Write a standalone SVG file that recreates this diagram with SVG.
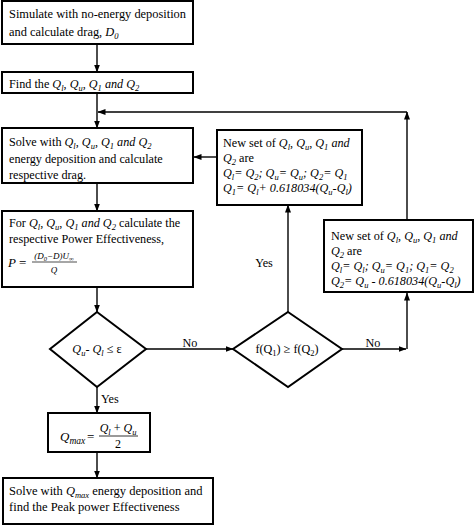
<svg xmlns="http://www.w3.org/2000/svg" width="474" height="527" viewBox="0 0 474 527">
<defs>
<style>
.b{fill:#fff;stroke:#000;stroke-width:2}
.c{fill:none;stroke:#000;stroke-width:1.4}
.t{font-family:"Liberation Serif","Times New Roman",serif;font-size:12.2px;fill:#000}
.L{font-size:12.4px}
.i{font-style:italic}
.s{font-size:8.5px}
.f{font-size:9px;font-style:italic}
</style>
<marker id="ah" markerWidth="8" markerHeight="6" refX="7.5" refY="3" orient="auto" markerUnits="userSpaceOnUse">
<path d="M0,0 L8,3 L0,6 Z" fill="#000"/>
</marker>
</defs>
<rect width="474" height="527" fill="#fff"/>

<g id="connectors">
<path class="c" d="M97,44 V72" marker-end="url(#ah)"/>
<path class="c" d="M97,93 V128" marker-end="url(#ah)"/>
<path class="c" d="M407,220 V112" marker-end="url(#ah)"/>
<path class="c" d="M407,112 H98" marker-end="url(#ah)"/>
<path class="c" d="M97,183 V211" marker-end="url(#ah)"/>
<path class="c" d="M97,287 V312" marker-end="url(#ah)"/>
<path class="c" d="M146,349 H233" marker-end="url(#ah)"/>
<path class="c" d="M342,349 H406" marker-end="url(#ah)"/>
<path class="c" d="M407,349 V293" marker-end="url(#ah)"/>
<path class="c" d="M288,312 V205" marker-end="url(#ah)"/>
<path class="c" d="M217,157 H194" marker-end="url(#ah)"/>
<path class="c" d="M97,387 V413" marker-end="url(#ah)"/>
<path class="c" d="M97,452 V478" marker-end="url(#ah)"/>
<text class="t" x="190" y="347" text-anchor="middle">No</text>
<text class="t" x="373" y="347" text-anchor="middle">No</text>
<text class="t" x="264" y="267" text-anchor="middle">Yes</text>
<text class="t" x="101" y="403">Yes</text>
</g>

<g id="node-simulate">
<rect class="b" x="2" y="1" width="191" height="43"/>
<text class="t L" x="9" y="18">Simulate with no-energy deposition</text>
<text class="t L" x="9" y="36">and calculate  drag, <tspan class="i">D</tspan><tspan class="i s" baseline-shift="-3">0</tspan></text>
</g>

<g id="node-find">
<rect class="b" x="2" y="72" width="191" height="21"/>
<text class="t" x="9" y="88">Find the <tspan class="i">Q</tspan><tspan class="i s" baseline-shift="-3">l</tspan>, <tspan class="i">Q</tspan><tspan class="i s" baseline-shift="-3">u</tspan>, <tspan class="i">Q</tspan><tspan class="i s" baseline-shift="-3">1</tspan><tspan class="i"> and Q</tspan><tspan class="i s" baseline-shift="-3">2</tspan></text>
</g>

<g id="node-solve">
<rect class="b" x="2" y="128" width="191" height="55"/>
<text class="t" x="9" y="146">Solve with <tspan class="i">Q</tspan><tspan class="i s" baseline-shift="-3">l</tspan>, <tspan class="i">Q</tspan><tspan class="i s" baseline-shift="-3">u</tspan>, <tspan class="i">Q</tspan><tspan class="i s" baseline-shift="-3">1</tspan><tspan class="i"> and Q</tspan><tspan class="i s" baseline-shift="-3">2</tspan></text>
<text class="t" x="9" y="163">energy deposition and calculate</text>
<text class="t" x="9" y="179">respective drag.</text>
</g>

<g id="node-power">
<rect class="b" x="2" y="211" width="191" height="76"/>
<text class="t" x="9" y="227">For <tspan class="i">Q</tspan><tspan class="i s" baseline-shift="-3">l</tspan>, <tspan class="i">Q</tspan><tspan class="i s" baseline-shift="-3">u</tspan>, <tspan class="i">Q</tspan><tspan class="i s" baseline-shift="-3">1</tspan><tspan class="i"> and Q</tspan><tspan class="i s" baseline-shift="-3">2</tspan> calculate  the</text>
<text class="t" x="9" y="243">respective Power Effectiveness,</text>
<text class="t i" x="8" y="267" style="font-size:13px">P</text>
<text class="t" x="19" y="267" style="font-size:13px">=</text>
<text class="t f" x="54" y="259" text-anchor="middle">(D<tspan style="font-size:6.5px" baseline-shift="-2">0</tspan>−D)U<tspan style="font-size:6.5px" baseline-shift="-2">∞</tspan></text>
<line x1="32" y1="262" x2="77" y2="262" stroke="#000" stroke-width="0.7"/>
<text class="t f" x="54" y="273" text-anchor="middle">Q</text>
</g>

<g id="node-check">
<polygon class="b" points="97,312 146,349 97,387 50,349"/>
<text class="t" x="97" y="353" text-anchor="middle"><tspan class="i">Q</tspan><tspan class="i s" baseline-shift="-3">u</tspan><tspan class="i">- Q</tspan><tspan class="i s" baseline-shift="-3">l</tspan> ≤ ε</text>
</g>

<g id="node-compare">
<polygon class="b" points="288,312 342,349 288,387 233,349"/>
<text class="t" x="287" y="353" text-anchor="middle">f(Q<tspan class="s" baseline-shift="-3">1</tspan>) ≥ f(Q<tspan class="s" baseline-shift="-3">2</tspan>)</text>
</g>

<g id="node-newset1">
<rect class="b" x="217" y="130" width="145" height="75"/>
<text class="t" x="223" y="147">New set of <tspan class="i">Q</tspan><tspan class="i s" baseline-shift="-3">l</tspan>, <tspan class="i">Q</tspan><tspan class="i s" baseline-shift="-3">u</tspan>, <tspan class="i">Q</tspan><tspan class="i s" baseline-shift="-3">1</tspan><tspan class="i"> and</tspan></text>
<text class="t" x="223" y="162"><tspan class="i">Q</tspan><tspan class="i s" baseline-shift="-3">2</tspan> are</text>
<text class="t i" x="223" y="177">Q<tspan class="s" baseline-shift="-3">l</tspan>= Q<tspan class="s" baseline-shift="-3">2</tspan>; Q<tspan class="s" baseline-shift="-3">u</tspan>= Q<tspan class="s" baseline-shift="-3">u</tspan>; Q<tspan class="s" baseline-shift="-3">2</tspan>= Q<tspan class="s" baseline-shift="-3">1</tspan></text>
<text class="t i" x="223" y="192">Q<tspan class="s" baseline-shift="-3">1</tspan>= Q<tspan class="s" baseline-shift="-3">l</tspan>+ 0.618034(Q<tspan class="s" baseline-shift="-3">u</tspan>-Q<tspan class="s" baseline-shift="-3">l</tspan>)</text>
</g>

<g id="node-newset2">
<rect class="b" x="324" y="220" width="149" height="72"/>
<text class="t" x="331" y="240">New set of <tspan class="i">Q</tspan><tspan class="i s" baseline-shift="-3">l</tspan>, <tspan class="i">Q</tspan><tspan class="i s" baseline-shift="-3">u</tspan>, <tspan class="i">Q</tspan><tspan class="i s" baseline-shift="-3">1</tspan><tspan class="i"> and</tspan></text>
<text class="t" x="331" y="255"><tspan class="i">Q</tspan><tspan class="i s" baseline-shift="-3">2</tspan> are</text>
<text class="t i" x="331" y="270">Q<tspan class="s" baseline-shift="-3">l</tspan>= Q<tspan class="s" baseline-shift="-3">l</tspan>; Q<tspan class="s" baseline-shift="-3">u</tspan>= Q<tspan class="s" baseline-shift="-3">1</tspan>; Q<tspan class="s" baseline-shift="-3">1</tspan>= Q<tspan class="s" baseline-shift="-3">2</tspan></text>
<text class="t i" x="331" y="285">Q<tspan class="s" baseline-shift="-3">2</tspan>= Q<tspan class="s" baseline-shift="-3">u</tspan> - 0.618034(Q<tspan class="s" baseline-shift="-3">u</tspan>-Q<tspan class="s" baseline-shift="-3">l</tspan>)</text>
</g>

<g id="node-qmax">
<rect class="b" x="48" y="413" width="102" height="39"/>
<text class="t i" x="60" y="441" style="font-size:13px">Q<tspan style="font-size:9.5px" baseline-shift="-3">max</tspan></text>
<text class="t" x="87" y="441" style="font-size:13px">=</text>
<text class="t" x="118" y="432" text-anchor="middle" style="font-size:12px"><tspan class="i">Q</tspan><tspan class="i s" baseline-shift="-3">l</tspan> + <tspan class="i">Q</tspan><tspan class="i s" baseline-shift="-3">u</tspan></text>
<line x1="99" y1="436" x2="138" y2="436" stroke="#000" stroke-width="0.8"/>
<text class="t" x="118" y="448" text-anchor="middle" style="font-size:12px">2</text>
</g>

<g id="node-final">
<rect class="b" x="3" y="478" width="210" height="46"/>
<text class="t" x="9" y="495" style="font-size:12.5px">Solve with <tspan class="i">Q</tspan><tspan class="i s" baseline-shift="-3">max</tspan> energy deposition and</text>
<text class="t" x="9" y="511" style="font-size:12.5px">find the Peak power Effectiveness</text>
</g>
</svg>
